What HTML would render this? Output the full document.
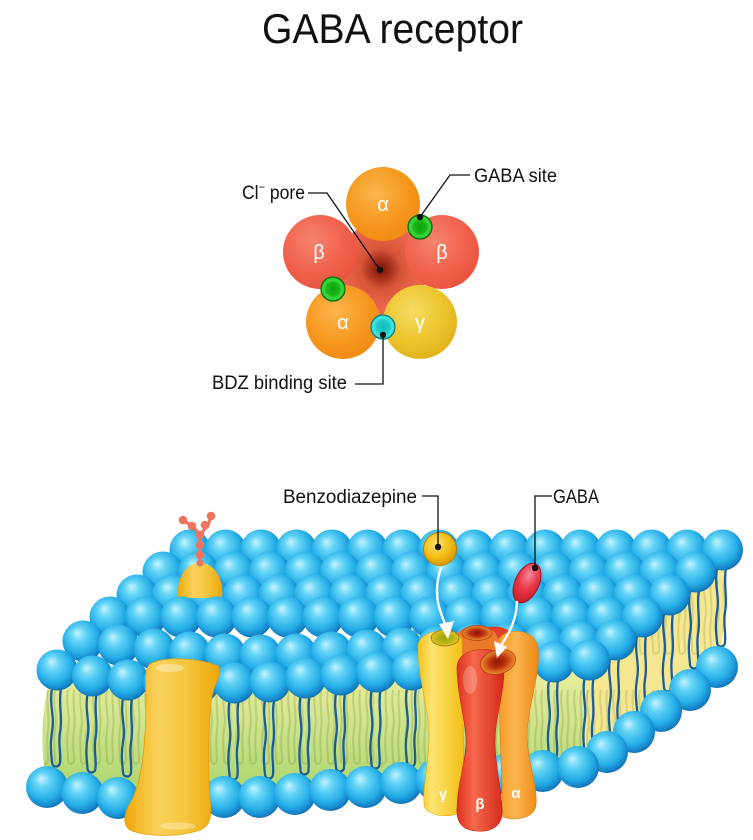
<!DOCTYPE html>
<html>
<head>
<meta charset="utf-8">
<style>
  html,body{margin:0;padding:0;background:#fff;}
  svg{display:block;}
  text{font-family:"Liberation Sans",Arial,sans-serif;}
</style>
</head>
<body>
<svg width="753" height="840" viewBox="0 0 753 840" xmlns="http://www.w3.org/2000/svg">
<defs>
  <radialGradient id="sph" cx="0.45" cy="0.42" r="0.62" fx="0.36" fy="0.3">
    <stop offset="0" stop-color="#c4f3fe"/>
    <stop offset="0.3" stop-color="#62d3f6"/>
    <stop offset="0.68" stop-color="#25aee7"/>
    <stop offset="0.88" stop-color="#1685c9"/>
    <stop offset="1" stop-color="#0e66a3"/>
  </radialGradient>
  <radialGradient id="gA" cx="0.4" cy="0.35" r="0.7">
    <stop offset="0" stop-color="#fbb64e"/>
    <stop offset="0.6" stop-color="#f6981f"/>
    <stop offset="1" stop-color="#f08a12"/>
  </radialGradient>
  <radialGradient id="gB" cx="0.4" cy="0.35" r="0.7">
    <stop offset="0" stop-color="#f5846f"/>
    <stop offset="0.6" stop-color="#f0624d"/>
    <stop offset="1" stop-color="#ea5240"/>
  </radialGradient>
  <radialGradient id="gG" cx="0.4" cy="0.35" r="0.7">
    <stop offset="0" stop-color="#f6dc66"/>
    <stop offset="0.6" stop-color="#edc42c"/>
    <stop offset="1" stop-color="#e2b21a"/>
  </radialGradient>
  <radialGradient id="gPore" cx="0.5" cy="0.5" r="0.5">
    <stop offset="0" stop-color="#6e140a"/>
    <stop offset="0.18" stop-color="#9e2a18"/>
    <stop offset="0.45" stop-color="#d9563a"/>
    <stop offset="1" stop-color="#ef6a55"/>
  </radialGradient>
  <radialGradient id="gGreen" cx="0.5" cy="0.5" r="0.5">
    <stop offset="0" stop-color="#10a010"/>
    <stop offset="0.55" stop-color="#18b818"/>
    <stop offset="0.75" stop-color="#3ed83e"/>
    <stop offset="1" stop-color="#28c028"/>
  </radialGradient>
  <radialGradient id="gCyan" cx="0.5" cy="0.5" r="0.5">
    <stop offset="0" stop-color="#16b8b8"/>
    <stop offset="0.55" stop-color="#20cccc"/>
    <stop offset="0.8" stop-color="#40e6e2"/>
    <stop offset="1" stop-color="#2cd4d0"/>
  </radialGradient>
  <linearGradient id="gBand" x1="0" y1="0" x2="0" y2="1">
    <stop offset="0" stop-color="#ecee9e"/>
    <stop offset="0.45" stop-color="#d0e48c"/>
    <stop offset="1" stop-color="#a9d46c"/>
  </linearGradient>
  <linearGradient id="gSide" x1="0" y1="0" x2="1" y2="1">
    <stop offset="0" stop-color="#f3e58c"/>
    <stop offset="1" stop-color="#f8e896"/>
  </linearGradient>
  <linearGradient id="gGold" x1="0" y1="0" x2="1" y2="0">
    <stop offset="0" stop-color="#f0a80a"/>
    <stop offset="0.35" stop-color="#f9d25c"/>
    <stop offset="0.65" stop-color="#f6c63e"/>
    <stop offset="1" stop-color="#eea608"/>
  </linearGradient>
  <linearGradient id="gGam" x1="0" y1="0" x2="1" y2="0">
    <stop offset="0" stop-color="#f4c21a"/>
    <stop offset="0.3" stop-color="#fde472"/>
    <stop offset="1" stop-color="#f2bf12"/>
  </linearGradient>
  <linearGradient id="gAlp" x1="0" y1="0" x2="1" y2="0">
    <stop offset="0" stop-color="#f59a24"/>
    <stop offset="0.45" stop-color="#fab550"/>
    <stop offset="1" stop-color="#ee8812"/>
  </linearGradient>
  <linearGradient id="gBet" x1="0" y1="0" x2="1" y2="0">
    <stop offset="0" stop-color="#e03020"/>
    <stop offset="0.35" stop-color="#f56a4c"/>
    <stop offset="1" stop-color="#d42818"/>
  </linearGradient>
  <radialGradient id="gRing" cx="0.5" cy="0.5" r="0.5">
    <stop offset="0" stop-color="#8e1408"/>
    <stop offset="0.45" stop-color="#b8300e"/>
    <stop offset="0.75" stop-color="#d86420"/>
    <stop offset="1" stop-color="#e88a30"/>
  </radialGradient>
  <radialGradient id="gRingG" cx="0.5" cy="0.5" r="0.5">
    <stop offset="0" stop-color="#9aa010"/>
    <stop offset="0.6" stop-color="#b8b418"/>
    <stop offset="1" stop-color="#e6c424"/>
  </radialGradient>
  <radialGradient id="gBall" cx="0.4" cy="0.35" r="0.65">
    <stop offset="0" stop-color="#fde36a"/>
    <stop offset="0.6" stop-color="#f4be18"/>
    <stop offset="1" stop-color="#d99a00"/>
  </radialGradient>
  <radialGradient id="gRed" cx="0.45" cy="0.3" r="0.7">
    <stop offset="0" stop-color="#f58898"/>
    <stop offset="0.55" stop-color="#e83646"/>
    <stop offset="1" stop-color="#c81e2e"/>
  </radialGradient>
  <pattern id="ft" patternUnits="userSpaceOnUse" x="0" y="686" width="13" height="110">
    <path d="M3,4 c-3,15 3,25 0,40 c-2,12 0,20 0,30 c0,5 6,5 6,0 c0,-10 -2,-18 0,-30 c2,-15 -2,-25 0,-40" stroke="#7c9240" stroke-width="2" fill="none"/>
  </pattern>
  <g id="row">
    <circle cx="0" cy="0" r="20.5" fill="url(#sph)"/>
    <circle cx="35.5" cy="0" r="20.5" fill="url(#sph)"/>
    <circle cx="71" cy="0" r="20.5" fill="url(#sph)"/>
    <circle cx="106.5" cy="0" r="20.5" fill="url(#sph)"/>
    <circle cx="142" cy="0" r="20.5" fill="url(#sph)"/>
    <circle cx="177.5" cy="0" r="20.5" fill="url(#sph)"/>
    <circle cx="213" cy="0" r="20.5" fill="url(#sph)"/>
    <circle cx="248.5" cy="0" r="20.5" fill="url(#sph)"/>
    <circle cx="284" cy="0" r="20.5" fill="url(#sph)"/>
    <circle cx="319.5" cy="0" r="20.5" fill="url(#sph)"/>
    <circle cx="355" cy="0" r="20.5" fill="url(#sph)"/>
    <circle cx="390.5" cy="0" r="20.5" fill="url(#sph)"/>
    <circle cx="426" cy="0" r="20.5" fill="url(#sph)"/>
    <circle cx="461.5" cy="0" r="20.5" fill="url(#sph)"/>
    <circle cx="497" cy="0" r="20.5" fill="url(#sph)"/>
    <circle cx="532.5" cy="0" r="20.5" fill="url(#sph)"/>
  </g>
  <circle id="s" cx="0" cy="0" r="20.5" fill="url(#sph)"/>
  <circle id="sb" cx="0" cy="0" r="21" fill="url(#sph)"/>
  <path id="tail" d="M-5,18 c-3,18 3,28 0,44 c-2,12 -1,20 0,30 c0,6 8,6 8,0 c1,-10 -2,-18 0,-30 c3,-16 -2,-26 1,-44" stroke="#1b5d97" stroke-width="2.3" fill="none" stroke-linecap="round"/>
</defs>

<!-- Title -->
<text x="262" y="43" font-size="42" fill="#111" textLength="261" lengthAdjust="spacingAndGlyphs">GABA  receptor</text>

<!-- ===== Top pentamer diagram ===== -->
<circle cx="381" cy="269" r="46" fill="url(#gPore)"/>
<circle cx="320" cy="252" r="37" fill="url(#gB)"/>
<circle cx="442" cy="252" r="37" fill="url(#gB)"/>
<circle cx="383" cy="204" r="37" fill="url(#gA)"/>
<circle cx="343" cy="322" r="37" fill="url(#gA)"/>
<circle cx="420" cy="322" r="37" fill="url(#gG)"/>
<g fill="#fff" font-size="20" text-anchor="middle">
  <text x="383" y="211">α</text>
  <text x="319" y="259">β</text>
  <text x="442" y="259">β</text>
  <text x="343" y="329">α</text>
  <text x="420" y="329">γ</text>
</g>
<circle cx="420" cy="227" r="12" fill="url(#gGreen)" stroke="#0f6e12" stroke-width="1.3"/>
<circle cx="333" cy="289" r="12" fill="url(#gGreen)" stroke="#0f6e12" stroke-width="1.3"/>
<circle cx="383" cy="327" r="12" fill="url(#gCyan)" stroke="#0c8080" stroke-width="1.3"/>

<g stroke="#111" stroke-width="1.3" fill="none">
  <path d="M308,193 L327,193 L380,270"/>
  <path d="M470,175 L450,175 L420,217"/>
  <path d="M355,384 L383,384 L383,335"/>
</g>
<g fill="#111">
  <circle cx="380" cy="270" r="3.2"/>
  <circle cx="420" cy="217" r="3.2"/>
  <circle cx="383" cy="335" r="3.2"/>
</g>
<g fill="#111" font-size="19">
  <text x="242" y="199" textLength="63" lengthAdjust="spacingAndGlyphs">Cl<tspan font-size="12" dy="-8">−</tspan><tspan dy="8"> pore</tspan></text>
  <text x="474" y="182" textLength="83" lengthAdjust="spacingAndGlyphs">GABA site</text>
  <text x="212" y="389" textLength="135" lengthAdjust="spacingAndGlyphs">BDZ binding site</text>
  <text x="283" y="503" textLength="134" lengthAdjust="spacingAndGlyphs">Benzodiazepine</text>
  <text x="553" y="503" textLength="46" lengthAdjust="spacingAndGlyphs">GABA</text>
</g>

<!-- ===== Membrane ===== -->
<path d="M50,676 Q230,700 590,666 L582,772 Q300,806 48,790 Q36,735 50,676 Z" fill="url(#gBand)"/>
<path d="M588,666 L727,552 L721,668 L582,772 Z" fill="url(#gSide)"/>
<path d="M50,676 Q230,700 590,666 L582,772 Q300,806 48,790 Q36,735 50,676 Z" fill="url(#ft)" opacity="0.3"/>
<path d="M588,666 L727,552 L721,668 L582,772 Z" fill="url(#ft)" opacity="0.25"/>

<use href="#tail" x="722" y="550"/>
<use href="#tail" x="695" y="572"/>
<use href="#tail" x="669" y="595"/>
<use href="#tail" x="642" y="617"/>
<use href="#tail" x="615" y="640"/>
<use href="#tail" x="57" y="670"/>
<use href="#tail" x="92.5" y="676"/>
<use href="#tail" x="128" y="680"/>
<use href="#tail" x="163.5" y="682"/>
<use href="#tail" x="199" y="683"/>
<use href="#tail" x="234.5" y="683"/>
<use href="#tail" x="270" y="682"/>
<use href="#tail" x="305.5" y="678"/>
<use href="#tail" x="341" y="675"/>
<use href="#tail" x="376.5" y="672"/>
<use href="#tail" x="412" y="670"/>
<use href="#tail" x="447.5" y="668"/>
<use href="#tail" x="483" y="666"/>
<use href="#tail" x="518.5" y="664"/>
<use href="#tail" x="554" y="662"/>
<use href="#tail" x="589.5" y="660"/>

<use href="#sb" x="717" y="667"/>
<use href="#sb" x="690" y="690"/>
<use href="#sb" x="661" y="711"/>
<use href="#sb" x="634" y="732"/>
<use href="#sb" x="607" y="752"/>
<use href="#sb" x="47" y="787"/>
<use href="#sb" x="82.4" y="793"/>
<use href="#sb" x="117.8" y="798"/>
<use href="#sb" x="153.2" y="800"/>
<use href="#sb" x="188.6" y="799"/>
<use href="#sb" x="224" y="797"/>
<use href="#sb" x="259.4" y="797"/>
<use href="#sb" x="294.8" y="794"/>
<use href="#sb" x="330.2" y="790"/>
<use href="#sb" x="365.6" y="787"/>
<use href="#sb" x="401" y="783"/>
<use href="#sb" x="436.4" y="780"/>
<use href="#sb" x="471.8" y="777"/>
<use href="#sb" x="507.2" y="774"/>
<use href="#sb" x="542.6" y="771"/>
<use href="#sb" x="578" y="767"/>

<!-- top layer -->
<use href="#row" x="190" y="550"/>
<use href="#row" x="163" y="572"/>
<use href="#row" x="137" y="595"/>
<!-- glycoprotein hump + chain -->
<path d="M178,598 C176,578 186,563 200,563 C214,563 224,578 222,598 Z" fill="url(#gGold)"/>
<g stroke="#f0735f" stroke-width="3" fill="none">
  <path d="M183,520 L192,526 L200,534 L208,526 L211,516"/>
  <path d="M200,534 L200,563"/>
</g>
<g fill="#f0735f">
  <circle cx="183" cy="520" r="4.3"/>
  <circle cx="192" cy="526" r="4.3"/>
  <circle cx="211" cy="516" r="4.3"/>
  <circle cx="205" cy="525" r="4.3"/>
  <circle cx="200" cy="535" r="4.3"/>
  <circle cx="200" cy="545" r="4.3"/>
  <circle cx="200" cy="555" r="4.3"/>
  <circle cx="200" cy="563" r="3.5"/>
</g>
<use href="#row" x="110" y="617"/>
<use href="#s" x="83" y="641"/>
<use href="#s" x="118.5" y="645"/>
<use href="#s" x="154" y="649"/>
<use href="#s" x="189.5" y="652"/>
<use href="#s" x="225" y="654"/>
<use href="#s" x="260.5" y="655"/>
<use href="#s" x="296" y="654"/>
<use href="#s" x="331.5" y="652"/>
<use href="#s" x="367" y="650"/>
<use href="#s" x="402.5" y="648"/>
<use href="#s" x="438" y="646"/>
<use href="#s" x="473.5" y="644"/>
<use href="#s" x="509" y="643"/>
<use href="#s" x="544.5" y="642"/>
<use href="#s" x="580" y="641"/>
<use href="#s" x="615.5" y="640"/>
<use href="#s" x="57" y="670"/>
<use href="#s" x="92.5" y="676"/>
<use href="#s" x="128" y="680"/>
<use href="#s" x="163.5" y="682"/>
<use href="#s" x="199" y="683"/>
<use href="#s" x="234.5" y="683"/>
<use href="#s" x="270" y="682"/>
<use href="#s" x="305.5" y="678"/>
<use href="#s" x="341" y="675"/>
<use href="#s" x="376.5" y="672"/>
<use href="#s" x="412" y="670"/>
<use href="#s" x="447.5" y="668"/>
<use href="#s" x="483" y="666"/>
<use href="#s" x="518.5" y="664"/>
<use href="#s" x="554" y="662"/>
<use href="#s" x="589.5" y="660"/>

<!-- left gold protein -->
<path d="M150,664 C166,655 202,659 218,666 C223,673 214,684 212,696 C208,722 208,770 210,800 C212,818 210,826 200,830 C180,837 150,837 132,831 C121,826 124,812 132,800 C142,780 146,740 146,702 C146,686 143,671 150,664 Z" fill="url(#gGold)" stroke="#e39e06" stroke-width="0.8"/>
<ellipse cx="170" cy="668" rx="14" ry="4" fill="#fff" opacity="0.35"/>
<ellipse cx="178" cy="826" rx="18" ry="3.5" fill="#fff" opacity="0.3"/>

<!-- GABA receptor -->
<path d="M470,645 C470,622 514,620 516,642 L516,664 L470,664 Z" fill="#e2402a"/>
<path d="M454,642 C454,622 496,620 498,640 L498,664 L454,664 Z" fill="#ea7a2a"/>
<ellipse cx="477" cy="633" rx="15" ry="7.5" fill="url(#gRing)" stroke="#b0420e" stroke-width="0.8"/>
<path d="M497,645 C497,627 535,625 538,648 C541,672 528,705 527,735 C527,760 538,785 536,805 C534,819 515,821 503,817 Z" fill="url(#gAlp)" stroke="#dd7a10" stroke-width="0.6"/>
<path d="M418,648 C416,629 456,625 462,640 L464,810 C455,818 432,818 425,808 C421,795 428,770 429,740 C430,712 418,680 418,648 Z" fill="url(#gGam)" stroke="#dca810" stroke-width="0.6"/>
<ellipse cx="445" cy="638" rx="14" ry="8" fill="url(#gRingG)" stroke="#a07a10" stroke-width="0.8"/>
<path d="M457,670 C456,652 475,648 492,650 C505,652 505,668 503,685 C500,708 495,722 495,742 C495,768 503,795 502,815 C500,830 485,832 477,831 C462,830 456,822 457,808 C458,780 466,762 466,742 C466,720 458,700 457,670 Z" fill="url(#gBet)" stroke="#c02010" stroke-width="0.6"/>
<ellipse cx="470" cy="680" rx="7" ry="14" fill="#fff" opacity="0.22"/>
<ellipse cx="498" cy="662" rx="18" ry="12" transform="rotate(-15 498 662)" fill="url(#gRing)" stroke="#b0420e" stroke-width="0.8"/>
<g fill="#fff" font-size="15" font-weight="bold" text-anchor="middle">
  <text x="443" y="799">γ</text>
  <text x="480" y="809">β</text>
  <text x="516" y="798">α</text>
</g>

<!-- ligands -->
<circle cx="440" cy="549" r="16.5" fill="url(#gBall)" stroke="#b88400" stroke-width="1"/>
<ellipse cx="527" cy="583" rx="12" ry="21" transform="rotate(25 527 583)" fill="url(#gRed)" stroke="#a81424" stroke-width="1"/>

<!-- white arrows -->
<g stroke="#fff" stroke-width="2.4" fill="none" stroke-linecap="round">
  <path d="M441,568 C432,594 440,612 446,626"/>
  <path d="M517,602 C516,624 507,635 501,646"/>
</g>
<g fill="#fff">
  <polygon points="439,624 454,621 448,639"/>
  <polygon points="494,641 507,647 497,658"/>
</g>

<!-- leader lines bottom -->
<g stroke="#111" stroke-width="1.3" fill="none">
  <path d="M422,496 L438,496 L438,547"/>
  <path d="M552,496 L535,496 L535,568"/>
</g>
<g fill="#111">
  <circle cx="438" cy="547" r="3.2"/>
  <circle cx="535" cy="568" r="3.2"/>
</g>
</svg>
</body>
</html>
